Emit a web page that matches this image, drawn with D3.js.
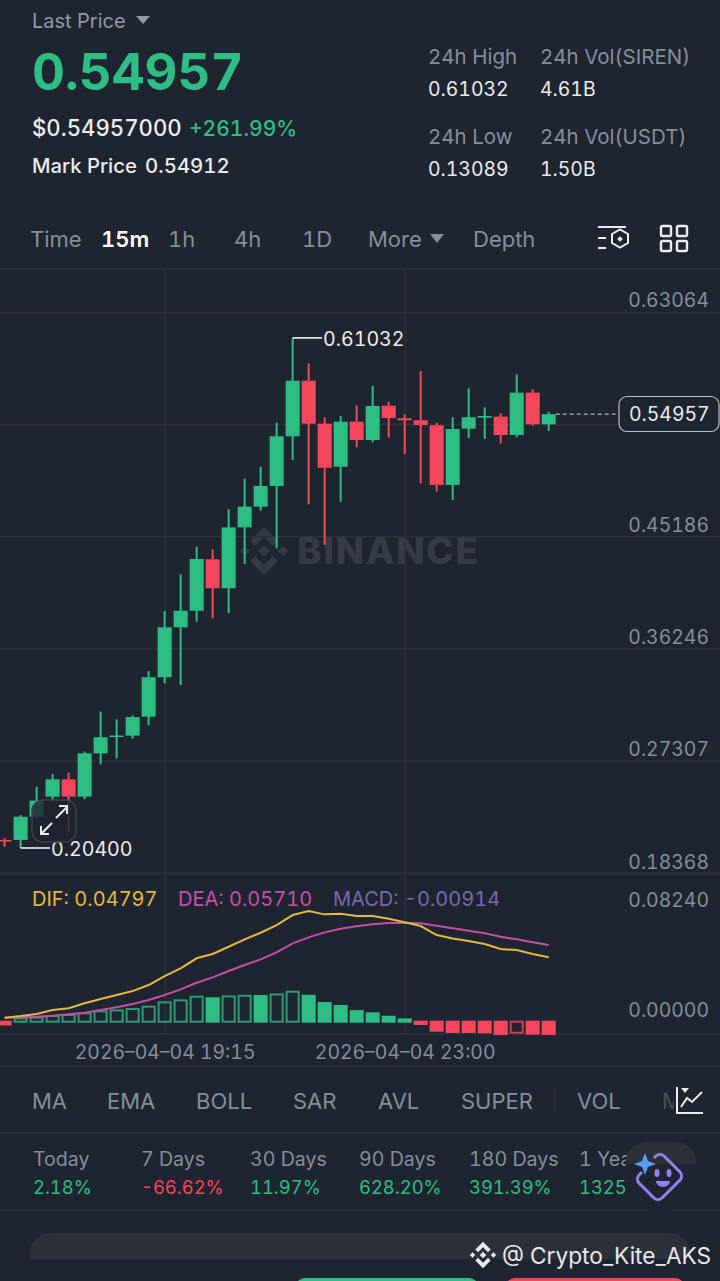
<!DOCTYPE html>
<html>
<head>
<meta charset="utf-8">
<script src="https://cdn.jsdelivr.net/npm/d3@7"></script>
<style>
  html, body { margin: 0; padding: 0; background: #1f2530; }
  svg { display: block; font-family: Inter, "Noto Sans", sans-serif; font-variant-numeric: tabular-nums; font-feature-settings: "tnum" 1; }
</style>
</head>
<body>
<svg width="720" height="1281"></svg>
<script>
const times = ['16:45','17:00','17:15','17:30','17:45','18:00','18:15','18:30','18:45','19:00','19:15','19:30',
  '19:45','20:00','20:15','20:30','20:45','21:00','21:15','21:30','21:45','22:00','22:15','22:30','22:45','23:00',
  '23:15','23:30','23:45','00:00','00:15','00:30','00:45','01:00','01:15'];
const open = [0.2104,0.2104,0.2289,0.2449,0.2587,0.2449,0.2794,0.2928,0.2935,0.3086,0.3400,0.3798,
  0.3930,0.4340,0.4109,0.4594,0.4759,0.4924,0.5319,0.5762,0.5420,0.5077,0.5436,0.5290,0.5563,0.5463,
  0.5447,0.5407,0.4932,0.5380,0.5468,0.5476,0.5330,0.5667,0.5415];
const high = [0.2117,0.2303,0.2528,0.2629,0.2640,0.2807,0.3126,0.3065,0.3097,0.3450,0.3928,0.4220,
  0.4440,0.4419,0.4738,0.4982,0.5077,0.5428,0.61032,0.5901,0.5471,0.5481,0.5566,0.5720,0.5595,0.5495,
  0.5840,0.5428,0.5471,0.5702,0.5550,0.5503,0.5813,0.5694,0.5515];
const low = [0.2050,0.2040,0.2281,0.2409,0.2170,0.2428,0.2707,0.2754,0.2911,0.3017,0.3352,0.3338,
  0.3843,0.3870,0.3910,0.4302,0.4727,0.4427,0.5131,0.4778,0.4454,0.4799,0.5232,0.5272,0.5311,0.5178,
  0.4945,0.4878,0.4812,0.5306,0.5300,0.5261,0.5311,0.5404,0.5362];
const close = [0.2092,0.2289,0.2417,0.2587,0.2449,0.2794,0.2922,0.2936,0.3083,0.3400,0.3798,0.3930,
  0.4342,0.4109,0.4594,0.4759,0.4924,0.5319,0.5762,0.5420,0.5069,0.5436,0.5290,0.5561,0.5465,0.5447,
  0.5409,0.4932,0.5378,0.5471,0.5481,0.5330,0.5667,0.5415,0.54957];

const dif = [0.0030,0.0042,0.0057,0.0087,0.0100,0.0137,0.0169,0.0199,0.0228,0.0273,0.0340,0.0397,
  0.0472,0.0504,0.0558,0.0613,0.0662,0.0719,0.0794,0.0824,0.0799,0.0804,0.0786,0.0786,0.0766,0.0740,
  0.0712,0.0645,0.0620,0.0600,0.0578,0.0541,0.0533,0.0504,0.04797];
const dea = [0.0030,0.0033,0.0037,0.0045,0.0055,0.0067,0.0087,0.0107,0.0132,0.0161,0.0199,0.0241,
  0.0290,0.0330,0.0377,0.0422,0.0464,0.0516,0.0583,0.0628,0.0665,0.0692,0.0710,0.0725,0.0734,0.0737,
  0.0732,0.0714,0.0695,0.0677,0.0658,0.0632,0.0613,0.0591,0.0571];
const macd = [-0.0020,0.0025,0.0030,0.0042,0.0050,0.0062,0.0077,0.0084,0.0094,0.0112,0.0144,0.0159,
  0.0186,0.0174,0.0188,0.0193,0.0191,0.0203,0.0223,0.0193,0.0139,0.0117,0.0079,0.0062,0.0037,0.0017,
  -0.0017,-0.0067,-0.0077,-0.0077,-0.0079,-0.0092,-0.0082,-0.0089,-0.00914];

const priceTicks = [0.63064,0.54125,0.45186,0.36246,0.27307,0.18368];
const macdTicks = [0.0824,0];
const timeTicks = ['19:15','23:00'];
const lastPrice = 0.54957;

const intervals = ['Time','15m','1h','4h','1D','More','Depth'];
const indicators = ['MA','EMA','BOLL','SAR','AVL','SUPER','VOL','M'];
const statNames = ['Today','7 Days','30 Days','90 Days','180 Days','1 Yea'];
const statValues = ['2.18%','-66.62%','11.97%','628.20%','391.39%','1325'];

const bg = '#1f2530', gridColor = '#2c313b', green = '#2ebd85', red = '#f6465d';
const grey = '#848e9c', light = '#eaecef';
const fontStack = 'Inter, "Noto Sans", sans-serif';

const svg = d3.select('svg');
svg.append('rect').attr('width', 720).attr('height', 1281).attr('fill', bg);

const label = function (x, y, str, size, color, weight, anchor) {
  return svg.append('text')
    .attr('x', x).attr('y', y)
    .attr('font-size', size)
    .attr('font-weight', weight || 400)
    .attr('text-anchor', anchor || 'start')
    .attr('fill', color)
    .text(str);
};

const hline = function (y) {
  svg.append('line').attr('x1', 0).attr('x2', 720).attr('y1', y).attr('y2', y)
    .attr('stroke', gridColor).attr('stroke-width', 1.5);
};

// binance mark, used for the watermark and the repost credit
const logo = function (cx, cy, s, fill) {
  const g = svg.append('g').attr('transform', 'translate(' + cx + ',' + cy + ') scale(' + s + ')').attr('fill', fill);
  g.append('path').attr('d', 'M0 -24L14 -10L9 -5L0 -14L-9 -5L-14 -10z');
  g.append('path').attr('d', 'M0 24L14 10L9 5L0 14L-9 5L-14 10z');
  g.append('path').attr('d', 'M0 -6L6 0L0 6L-6 0z');
  g.append('path').attr('d', 'M-19 -5L-14 0L-19 5L-24 0z');
  g.append('path').attr('d', 'M19 -5L24 0L19 5L14 0z');
};

// scales
const x = d3.scalePoint().domain(times).range([4.6, 548.7]);
const y = d3.scaleLinear().domain([0.18368, 0.63064]).range([873.5, 312.4]);
const yMacd = d3.scaleLinear().domain([0, 0.0824]).range([1021.7, 911]);
const barWidth = x.step() * 0.88;

// header
label(32, 28, 'Last Price', 20, '#9099a6');
svg.append('path').attr('d', 'M136 16h14l-7 8z').attr('fill', '#9099a6');
label(32, 90, '0.54957', 51, green, 700);
label(32, 136, '$0.54957000', 22.2, light, 500);
label(189, 136, '+261.99%', 21, green, 500);
label(32, 173, 'Mark Price', 20.3, light, 500);
label(145, 173, '0.54912', 20.4, light, 500);

label(428, 64, '24h High', 20.5, grey);
label(428, 96, '0.61032', 19.4, light);
label(540, 64, '24h Vol(SIREN)', 20.5, grey);
label(540, 96, '4.61B', 19.4, light);
label(428, 144, '24h Low', 20.5, grey);
label(428, 176, '0.13089', 19.4, light);
label(540, 144, '24h Vol(USDT)', 20.5, grey);
label(540, 176, '1.50B', 19.4, light);

// interval tabs
const tabX = [30, 101, 168, 234, 302, 368, 473];
intervals.forEach(function (d, i) {
  label(tabX[i], 247, d, 22, d === '15m' ? '#ffffff' : grey, d === '15m' ? 600 : 400);
});
svg.append('path').attr('d', 'M430 234h14l-7 9z').attr('fill', grey);

// settings + layout icons
svg.append('path')
  .attr('d', 'M598 227h28M598 238h8M598 248h8M612 234l8-4.5 8 4.5v9l-8 4.5-8-4.5z')
  .attr('fill', 'none').attr('stroke', light).attr('stroke-width', 2);
svg.append('rect').attr('x', 618).attr('y', 237).attr('width', 4).attr('height', 4)
  .attr('transform', 'rotate(45 620 239)').attr('fill', light);
[[661, 226], [677, 226], [661, 241], [677, 241]].forEach(function (p) {
  svg.append('rect').attr('x', p[0]).attr('y', p[1]).attr('width', 10).attr('height', 10)
    .attr('rx', 1.5).attr('fill', 'none').attr('stroke', light).attr('stroke-width', 2.4);
});

hline(269);

// watermark sits under the candles
logo(264, 551, 1, '#353b46');
svg.append('text').attr('x', 297).attr('y', 564).attr('font-size', 37).attr('font-weight', 800)
  .attr('letter-spacing', 1.8).attr('fill', '#353b46').text('BINANCE');

// price axis and grid
const priceAxis = svg.append('g')
  .attr('transform', 'translate(720,-0.5)')
  .call(d3.axisRight(y).tickValues(priceTicks).tickSize(-720).tickFormat(d3.format('.5f')));
priceAxis.attr('font-family', fontStack);
priceAxis.select('.domain').remove();
priceAxis.selectAll('line').attr('stroke', gridColor).attr('stroke-width', 1.5);
priceAxis.selectAll('text')
  .attr('x', -11).attr('dy', -5).attr('text-anchor', 'end')
  .attr('font-size', 19.4).attr('fill', grey);
// the 0.54125 label is hidden behind the last price tag
priceAxis.selectAll('text').filter(function (d) { return d === 0.54125; }).remove();

// time axis with the vertical grid lines
const timeAxis = svg.append('g')
  .attr('transform', 'translate(0,1034)')
  .call(d3.axisBottom(x).tickValues(timeTicks).tickSize(-764).tickPadding(11)
    .tickFormat(function (d) { return '2026\u201304\u201304 ' + d; }));
timeAxis.attr('font-family', fontStack);
timeAxis.select('.domain').attr('d', 'M0 0H720').attr('stroke', gridColor).attr('stroke-width', 1.5);
timeAxis.selectAll('line').attr('stroke', gridColor).attr('stroke-width', 1.5);
timeAxis.selectAll('text').attr('font-size', 19.4).attr('fill', grey);

hline(1066);
hline(1133);
hline(1210);

// candles
const candles = svg.append('g').selectAll('g').data(times).enter().append('g')
  .attr('fill', function (d, i) { return close[i] >= open[i] ? green : red; });
candles.append('rect')
  .attr('x', function (d) { return x(d) - 1; })
  .attr('width', 2)
  .attr('y', function (d, i) { return y(high[i]); })
  .attr('height', function (d, i) { return y(low[i]) - y(high[i]); });
candles.append('rect')
  .attr('x', function (d) { return x(d) - barWidth / 2; })
  .attr('width', barWidth)
  .attr('y', function (d, i) { return y(Math.max(open[i], close[i])); })
  .attr('height', function (d, i) { return Math.max(1.5, Math.abs(y(open[i]) - y(close[i]))); });

// high / low callouts
const callout = function (i, value, textX) {
  svg.append('path')
    .attr('d', 'M' + x(times[i]) + ' ' + y(value) + 'H' + (textX - 1))
    .attr('stroke', '#ffffff').attr('stroke-width', 1.5);
  label(textX, y(value) + 8, value.toFixed(5), 19.6, light);
};
callout(18, high[18], 323);
callout(1, low[1], 51);

// expand button over the chart
svg.append('rect').attr('x', 32).attr('y', 800).attr('width', 44).attr('height', 42).attr('rx', 11)
  .attr('fill', bg).attr('fill-opacity', 0.82).attr('stroke', '#3d424c').attr('stroke-width', 1.5);
svg.append('path')
  .attr('d', 'M56 818l11-11M59 806h8v8M52 823l-11 11M41 826v8h8')
  .attr('fill', 'none').attr('stroke', light).attr('stroke-width', 2);

// last price line and tag
svg.append('line')
  .attr('x1', x(times[34]) + barWidth / 2).attr('x2', 618)
  .attr('y1', y(lastPrice)).attr('y2', y(lastPrice))
  .attr('stroke', '#aeb4bc').attr('stroke-width', 1.2).attr('stroke-dasharray', '4 3');
svg.append('rect').attr('x', 619).attr('y', 396.5).attr('width', 100).attr('height', 35).attr('rx', 8)
  .attr('fill', bg).attr('stroke', '#b7bdc6').attr('stroke-width', 1.2);
label(629, 421, lastPrice.toFixed(5), 19.4, light);

// macd legend
label(32, 906, 'DIF: 0.04797', 20, '#e2b93b');
label(178, 906, 'DEA: 0.05710', 20, '#c64fa6');
label(333, 906, 'MACD: -0.00914', 20, '#7b67ad');

// macd axis
const macdAxis = svg.append('g')
  .attr('transform', 'translate(720,0)')
  .call(d3.axisRight(yMacd).tickValues(macdTicks).tickSize(0).tickFormat(d3.format('.5f')));
macdAxis.attr('font-family', fontStack);
macdAxis.select('.domain').remove();
macdAxis.selectAll('text')
  .attr('x', -11).attr('dy', -5).attr('text-anchor', 'end')
  .attr('font-size', 19.4).attr('fill', grey);

// macd histogram, hollow while the bar is growing
const growing = function (i) { return i > 0 && macd[i] > macd[i - 1]; };
svg.append('g').selectAll('rect').data(times).enter().append('rect')
  .attr('x', function (d) { return x(d) - barWidth / 2 + 1; })
  .attr('width', barWidth - 2)
  .attr('y', function (d, i) { return Math.min(yMacd(0), yMacd(macd[i])); })
  .attr('height', function (d, i) { return Math.abs(yMacd(macd[i]) - yMacd(0)); })
  .attr('stroke-width', 2)
  .attr('stroke', function (d, i) { return macd[i] >= 0 ? green : red; })
  .attr('stroke-opacity', function (d, i) { return growing(i) ? 0.78 : 1; })
  .attr('fill', function (d, i) {
    if (growing(i)) return 'none';
    return macd[i] >= 0 ? green : red;
  });

const macdLine = function (values) {
  return d3.line()
    .x(function (d, i) { return x(times[i]); })
    .y(function (d) { return yMacd(d); })(values);
};
svg.append('path').attr('d', macdLine(dea)).attr('fill', 'none').attr('stroke', '#c64fa6').attr('stroke-width', 2);
svg.append('path').attr('d', macdLine(dif)).attr('fill', 'none').attr('stroke', '#e2b93b').attr('stroke-width', 2);

// indicator tabs
const indicatorX = [32, 107, 196, 293, 378, 461, 577, 662];
indicators.forEach(function (d, i) {
  label(indicatorX[i], 1109, d, 22, grey).attr('opacity', d === 'M' ? 0.4 : 1);
});
svg.append('line').attr('x1', 555).attr('x2', 555).attr('y1', 1088).attr('y2', 1112)
  .attr('stroke', gridColor).attr('stroke-width', 1.5);
svg.append('rect').attr('x', 674).attr('y', 1080).attr('width', 46).attr('height', 40).attr('fill', bg);
svg.append('path')
  .attr('d', 'M677 1087v26h26M681 1107l6-9 5 4 10-10')
  .attr('fill', 'none').attr('stroke', light).attr('stroke-width', 2);
svg.append('path').attr('d', 'M681 1088h8l-4 5z').attr('fill', light);

// period returns
const statX = [33, 141, 250, 359, 469, 579];
statNames.forEach(function (d, i) {
  label(statX[i], 1166, d, 19.6, grey);
});
statValues.forEach(function (d, i) {
  label(statX[i], 1194, d, 18.4, d.charAt(0) === '-' ? red : green);
});

// assistant button
svg.append('circle').attr('cx', 660).attr('cy', 1176).attr('r', 36).attr('fill', bg);
svg.append('path').attr('d', 'M626 1164a20 20 0 0 1 20-22h30a20 20 0 0 1 20 22z').attr('fill', '#2b303a');
svg.append('path')
  .attr('d', 'M642 1172l-3 3a6 6 0 0 0 0 8l15 15a6 6 0 0 0 8 0l18-18a6 6 0 0 0 0-8l-16-16a6 6 0 0 0-8 0l-2 2')
  .attr('fill', 'none').attr('stroke', '#8f83ee').attr('stroke-width', 3);
svg.append('path').attr('d', 'M645 1153l3 8 8 3-8 3-3 8-3-8-8-3 8-3z').attr('fill', '#5c9bf5');
svg.append('ellipse').attr('cx', 657).attr('cy', 1173).attr('rx', 2.5).attr('ry', 4).attr('fill', '#8f83ee');
svg.append('ellipse').attr('cx', 669).attr('cy', 1173).attr('rx', 2.5).attr('ry', 4).attr('fill', '#8f83ee');
svg.append('path').attr('d', 'M656 1181h14a7 6 0 0 1-14 0z').attr('fill', '#8f83ee');

// bottom panel
svg.append('rect').attr('x', 30).attr('y', 1233).attr('width', 660).attr('height', 60).attr('rx', 20).attr('fill', '#2b303a');
svg.append('rect').attr('x', 0).attr('y', 1259).attr('width', 720).attr('height', 30).attr('fill', bg);
svg.append('rect').attr('x', 295).attr('y', 1278).attr('width', 184).attr('height', 20).attr('rx', 10).attr('fill', green);
svg.append('rect').attr('x', 505).attr('y', 1278).attr('width', 180).attr('height', 20).attr('rx', 10).attr('fill', red);

// repost credit
logo(483, 1255, 0.55, '#e6e8ea');
label(502, 1264, '@ Crypto_Kite_AKS', 22.7, '#e6e8ea');
</script>
</body>
</html>
